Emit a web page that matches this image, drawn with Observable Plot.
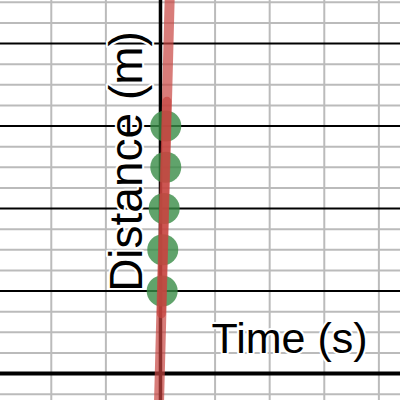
<!DOCTYPE html>
<html>
<head>
<meta charset="utf-8">
<script src="https://cdn.jsdelivr.net/npm/d3@7"></script>
<script src="https://cdn.jsdelivr.net/npm/@observablehq/plot@0.6"></script>
<style>
  html, body { margin: 0; padding: 0; background: white; }
</style>
</head>
<body>
<div id="chart"></div>
<script>
// Data (time in s, distance in m)
const distance = [4, 6, 8, 10, 12];
const time = [0.031, 0.042, 0.068, 0.097, 0.097];

// Grid ticks
const xMinorTicks = [-2, -1, 1, 2, 3, 4];
const yMinorTicks = [-1, 1, 2, 3, 5, 6, 7, 9, 10, 11, 13, 14, 15, 17, 18];
const yMajorTicks = [4, 8, 12, 16];

// Distance ranges over which the fitted line is drawn
const fitFullRange = [-2, 19];
const fitSegmentRange = [2.9, 13.2];

// Labels
const yLabel = "Distance (m)";
const xLabel = "Time (s)";

// least squares fit: distance = m * time + b
const mt = d3.mean(time), md = d3.mean(distance);
const sxy = d3.sum(time, (t, i) => (t - mt) * (distance[i] - md));
const sxx = d3.sum(time, t => (t - mt) ** 2);
const slope = sxy / sxx;
const intercept = md - slope * mt;
const fitPoints = range => range.map(d => ({time: (d - intercept) / slope, distance: d}));

const points = distance.map((d, i) => ({time: time[i], distance: d}));

const font = "'Liberation Sans', Arial, sans-serif";

const chart = Plot.plot({
  width: 400,
  height: 400,
  margin: 0,
  x: {domain: [-2.930, 4.396], axis: null},
  y: {domain: [-1.309, 18.085], axis: null},
  style: {background: "white", fontFamily: font},
  marks: [
    Plot.ruleX(xMinorTicks, {stroke: "#bbbbbb", strokeWidth: 2}),
    Plot.ruleY(yMinorTicks, {stroke: "#bbbbbb", strokeWidth: 2}),
    Plot.ruleY(yMajorTicks, {stroke: "black", strokeWidth: 2}),
    Plot.ruleX([0], {stroke: "black", strokeWidth: 3.5}),
    Plot.ruleY([0], {stroke: "black", strokeWidth: 4}),
    Plot.text([yLabel], {
      text: d => d, frameAnchor: "top-left", dx: 141, dy: 161, rotate: -90,
      lineAnchor: "bottom", textAnchor: "middle", fontSize: 46,
      fill: "black", stroke: "white", strokeWidth: 4, fontFamily: font
    }),
    Plot.text([xLabel], {
      text: d => d, frameAnchor: "top-left", dx: 211, dy: 352,
      lineAnchor: "bottom", textAnchor: "start", fontSize: 43,
      fill: "black", stroke: "white", strokeWidth: 4, fontFamily: font
    }),
    Plot.dot(points, {x: "time", y: "distance", r: 15.5, fill: "#388c46", fillOpacity: 0.8, stroke: null}),
    Plot.line(fitPoints(fitFullRange), {x: "time", y: "distance", stroke: "#c74440", strokeOpacity: 0.7, strokeWidth: 10}),
    Plot.line(fitPoints(fitSegmentRange), {x: "time", y: "distance", stroke: "#c74440", strokeOpacity: 0.7, strokeWidth: 9, strokeLinecap: "round"})
  ]
});
document.getElementById("chart").appendChild(chart);
</script>
</body>
</html>
